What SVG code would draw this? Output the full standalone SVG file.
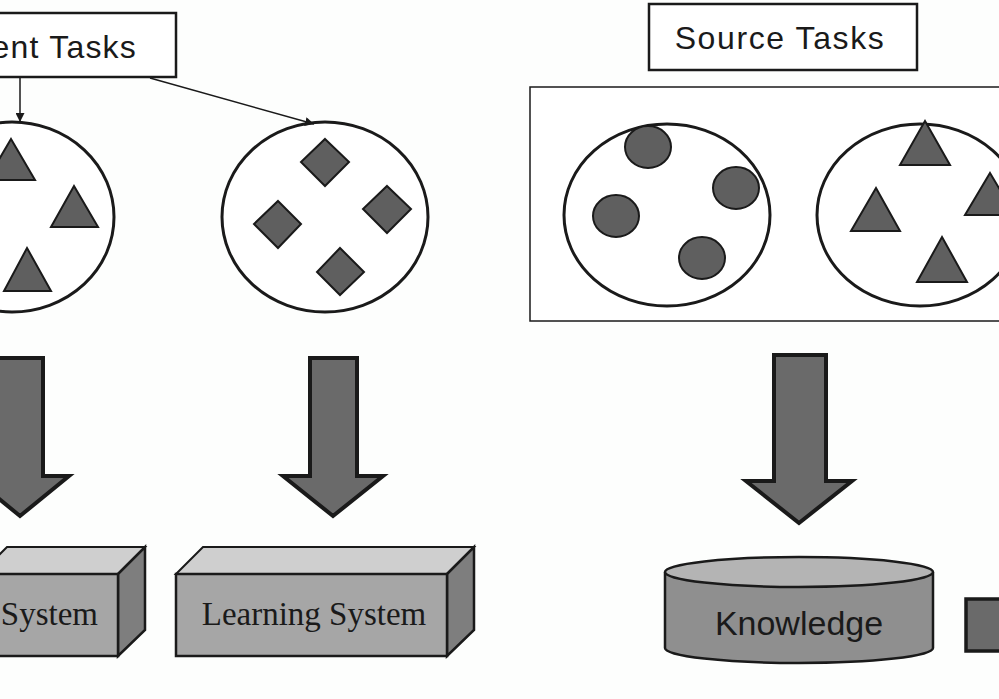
<svg xmlns="http://www.w3.org/2000/svg" width="999" height="699" viewBox="0 0 999 699">
<style>
.lbl{fill:#fff;stroke:#1a1a1a;stroke-width:2.5}
.sans{font-family:"Liberation Sans",Arial,sans-serif;fill:#1a1a1a}
.serif{font-family:"Liberation Serif","Times New Roman",serif;fill:#1a1a1a}
.ell{fill:#fff;stroke:#1a1a1a;stroke-width:3}
.shp{fill:#5f5f5f;stroke:#1a1a1a;stroke-width:2}
.big{fill:#6a6a6a;stroke:#1a1a1a;stroke-width:4;stroke-linejoin:miter}
.front{fill:#a6a6a6;stroke:#1a1a1a;stroke-width:2.5}
.top{fill:#cfcfcf;stroke:#1a1a1a;stroke-width:2}
.side{fill:#7e7e7e;stroke:#1a1a1a;stroke-width:2.5}
.thin{stroke:#1a1a1a;stroke-width:1.5;fill:none}
</style>
<defs><marker id="ah" viewBox="0 0 10 10" refX="10" refY="5" markerWidth="9" markerHeight="9" markerUnits="userSpaceOnUse" orient="auto"><path d="M0,0L10,5L0,10z" fill="#1a1a1a"/></marker></defs>
<rect width="999" height="699" fill="#fdfefd"/>
<g id="target-label"><rect class="lbl" x="-10" y="13" width="186" height="64"/><text class="sans" x="137" y="58" font-size="32" letter-spacing="1.2" text-anchor="end">ent Tasks</text></g>
<g id="source-label"><rect class="lbl" x="649" y="4" width="268" height="66"/><text class="sans" x="780" y="49" font-size="32" letter-spacing="1.6" text-anchor="middle">Source Tasks</text></g>
<g id="target1"><ellipse class="ell" cx="12" cy="217" rx="102" ry="95"/>
<polygon class="shp" points="11,139 35,180 -13,180"/><polygon class="shp" points="74,186 98,227 51,227"/><polygon class="shp" points="27,248 51,291 4,291"/></g>
<g id="target2"><ellipse class="ell" cx="325" cy="217" rx="103" ry="95"/>
<polygon class="shp" points="325,139 349,162 325,186 301,162"/><polygon class="shp" points="387,186 411,209 387,233 363,209"/><polygon class="shp" points="278,201 301,224 278,248 254,224"/><polygon class="shp" points="340,248 364,272 340,295 317,272"/></g>
<g id="source-set"><rect x="530" y="87" width="480" height="234" fill="#fff" stroke="#1a1a1a" stroke-width="1.5"/>
<ellipse class="ell" cx="667" cy="215" rx="103" ry="91"/>
<ellipse class="shp" cx="648" cy="147" rx="23" ry="21"/><ellipse class="shp" cx="736" cy="188" rx="23" ry="21"/><ellipse class="shp" cx="616" cy="216" rx="23" ry="21"/><ellipse class="shp" cx="702" cy="258" rx="23" ry="21"/>
<ellipse class="ell" cx="920" cy="215" rx="103" ry="91"/>
<polygon class="shp" points="925,121 950,165 900,165"/><polygon class="shp" points="876,188 900,231 851,231"/><polygon class="shp" points="942,237 967,282 917,282"/><polygon class="shp" points="990,173 1015,215 965,215"/></g>
<g id="connectors">
<line class="thin" x1="20" y1="77" x2="20" y2="122" marker-end="url(#ah)"/>
<line class="thin" x1="150" y1="78" x2="314" y2="124" marker-end="url(#ah)"/>
<polygon class="big" points="-4,358 43,358 43,476 69,476 20,516 -29,476 -4,476"/>
<polygon class="big" points="310,358 357,358 357,476 383,476 333,516 283,476 310,476"/>
<polygon class="big" points="774,355 826,355 826,481 852,481 799,523 746,481 774,481"/>
</g>
<g id="learning1"><polygon class="top" points="-20,574 7,547 145,547 118,574"/><polygon class="side" points="118,574 145,547 145,630 118,656"/><rect class="front" x="-20" y="574" width="138" height="82"/><text class="serif" x="98" y="625" font-size="33" text-anchor="end">System</text></g>
<g id="learning2"><polygon class="top" points="176,574 203,547 474,547 447,574"/><polygon class="side" points="447,574 474,547 474,630 447,656"/><rect class="front" x="176" y="574" width="271" height="82"/><text class="serif" x="314" y="625" font-size="33" text-anchor="middle">Learning System</text></g>
<g id="knowledge"><path d="M665,572 V648 A134,15 0 0 0 933,648 V572" fill="#8f8f8f" stroke="#1a1a1a" stroke-width="2.5"/><ellipse cx="799" cy="572" rx="134" ry="15" fill="#b4b4b4" stroke="#1a1a1a" stroke-width="2.5"/><text class="sans" x="799" y="635" font-size="34" text-anchor="middle">Knowledge</text></g>
<g id="partial-box"><rect x="966" y="599" width="50" height="52" fill="#6a6a6a" stroke="#1a1a1a" stroke-width="3.5"/></g>
</svg>
